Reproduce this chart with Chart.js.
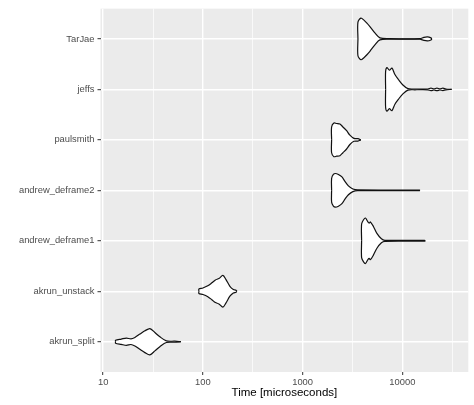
<!DOCTYPE html>
<html>
<head>
<meta charset="utf-8">
<script src="https://cdn.jsdelivr.net/npm/chart.js@4"></script>
<style>
  html, body { margin: 0; padding: 0; background: #ffffff; }
  #wrap { width: 474px; height: 405px; }
</style>
</head>
<body>
<div id="wrap"><canvas id="chartViolin"></canvas></div>
<script>
// categories, bottom to top (ggplot puts the first level at the bottom)
const categories = ['akrun_split', 'akrun_unstack', 'andrew_deframe1', 'andrew_deframe2', 'paulsmith', 'jeffs', 'TarJae'];

// violin profiles: [time in microseconds, half width in category units]
const akrunSplit = [[13.3, 0.03], [15.2, 0.053], [17.1, 0.073], [19.0, 0.055], [20.8, 0.084], [23.3, 0.151],
    [26.2, 0.216], [29.4, 0.261], [33.0, 0.182], [37.0, 0.098], [43.0, 0.016], [52.4, 0.01], [60.2, 0]];
const akrunUnstack = [[91.2, 0.045], [100, 0.065], [112, 0.108], [123, 0.167], [133.5, 0.225], [144.7, 0.251],
    [158.7, 0.314], [170, 0.235], [186.6, 0.098], [202, 0.035], [215, 0.02], [219, 0]];
const andrewDeframe1 = [[3906, 0.333], [4072, 0.412], [4265, 0.451], [4517, 0.373], [4650, 0.35], [4786, 0.373],
    [5130, 0.284], [5562, 0.147], [6171, 0.039], [6691, 0.01], [16740, 0.008], [17010, 0]];
const andrewDeframe2 = [[1954, 0.235], [2036, 0.314], [2133, 0.333], [2287, 0.314], [2480, 0.265], [2657, 0.176],
    [2880, 0.088], [3195, 0.025], [3586, 0.008], [14840, 0.006], [15010, 0]];
const paulsmith = [[1954, 0.255], [2061, 0.333], [2193, 0.324], [2367, 0.314], [2537, 0.255], [2750, 0.186],
    [2981, 0.092], [3269, 0.029], [3586, 0.024], [3844, 0]];
const jeffs = [[6800, 0.353], [7010, 0.431], [7425, 0.382], [7865, 0.422], [8430, 0.294], [9140, 0.196],
    [10140, 0.088], [11380, 0.014], [13380, 0.008], [18060, 0.008], [19360, 0.025], [20750, 0.012],
    [22240, 0.025], [23830, 0.012], [25540, 0.024], [27370, 0.008], [31220, 0]];
const tarJae = [[3590, 0.333], [3846, 0.412], [4121, 0.373], [4416, 0.314], [4732, 0.245], [5309, 0.118],
    [5960, 0.02], [7500, 0.006], [15000, 0.006], [16440, 0.029], [17850, 0.039], [19370, 0.02], [19800, 0]];

const profiles = [akrunSplit, akrunUnstack, andrewDeframe1, andrewDeframe2, paulsmith, jeffs, tarJae];

// x axis: labelled decades and the minor lines between them
const majorTicks = [10, 100, 1000, 10000];
const minorTicks = [31.62, 316.2, 3162, 31623];
const xLabel = 'Time [microseconds]';

const fontFamily = '"Liberation Sans", Arial, Helvetica, sans-serif';

const panelBackground = {
    id: 'panelBackground',
    beforeDraw(chart) {
        const { ctx, chartArea } = chart;
        ctx.save();
        ctx.fillStyle = '#ebebeb';
        ctx.fillRect(chartArea.left, chartArea.top, chartArea.right - chartArea.left, chartArea.bottom - chartArea.top);
        ctx.restore();
    }
};

renderChart();

function buildDatasets() {
    const datasets = [];
    profiles.forEach((pts, idx) => {
        // close the outline at the left end
        const full = [[pts[0][0], 0]].concat(pts);
        const upper = full.map(p => ({ x: p[0], y: idx + p[1] }));
        const lower = full.map(p => ({ x: p[0], y: idx - p[1] }));
        const common = {
            borderColor: '#111111',
            borderWidth: 1.2,
            pointRadius: 0,
            tension: 0.3,
            backgroundColor: '#ffffff',
        };
        datasets.push(Object.assign({ label: categories[idx] + ' upper', data: upper, fill: false }, common));
        datasets.push(Object.assign({ label: categories[idx] + ' lower', data: lower, fill: '-1' }, common));
    });
    return datasets;
}

function renderChart() {
    const config = {
        type: 'line',
        data: { datasets: buildDatasets() },
        options: {
            responsive: true,
            maintainAspectRatio: false,
            animation: false,
            layout: { padding: { top: 5, right: 5.7, left: 0, bottom: 0 } },
            plugins: {
                legend: { display: false },
                tooltip: { enabled: false },
            },
            scales: {
                x: {
                    type: 'logarithmic',
                    min: 9.4,
                    max: 45900,
                    afterBuildTicks: scale => {
                        scale.ticks = majorTicks.concat(minorTicks).sort((a, b) => a - b)
                            .map(v => ({ value: v, major: majorTicks.includes(v) }));
                    },
                    afterFit: scale => { scale.height = 33; },
                    border: { display: false },
                    grid: {
                        color: '#ffffff',
                        lineWidth: ctx => (ctx.tick && majorTicks.includes(ctx.tick.value)) ? 1.4 : 0.7,
                        tickColor: ctx => (ctx.tick && majorTicks.includes(ctx.tick.value)) ? '#333333' : 'rgba(0,0,0,0)',
                        tickWidth: 1,
                        tickLength: 3,
                        drawTicks: true,
                    },
                    ticks: {
                        autoSkip: false,
                        maxRotation: 0,
                        padding: 1.5,
                        color: '#4d4d4d',
                        font: { family: fontFamily, size: 9.4 },
                        callback: value => majorTicks.includes(value) ? String(value) : '',
                    },
                    title: {
                        display: true,
                        text: xLabel,
                        color: '#000000',
                        font: { family: fontFamily, size: 11.5 },
                        padding: { top: 0, bottom: 5 },
                    },
                },
                y: {
                    type: 'linear',
                    min: -0.6,
                    max: 6.6,
                    afterBuildTicks: scale => {
                        scale.ticks = categories.map((c, i) => ({ value: i }));
                    },
                    afterFit: scale => { scale.width = 100.5; },
                    border: { display: false },
                    grid: {
                        color: '#ffffff',
                        lineWidth: 1.4,
                        tickColor: '#333333',
                        tickWidth: 1,
                        tickLength: 3,
                    },
                    ticks: {
                        autoSkip: false,
                        padding: 3,
                        color: '#4d4d4d',
                        font: { family: fontFamily, size: 9.4 },
                        callback: value => categories[value] || '',
                    },
                },
            },
        },
        plugins: [panelBackground],
    };
    new Chart(document.getElementById('chartViolin'), config);
}
</script>
</body>
</html>
